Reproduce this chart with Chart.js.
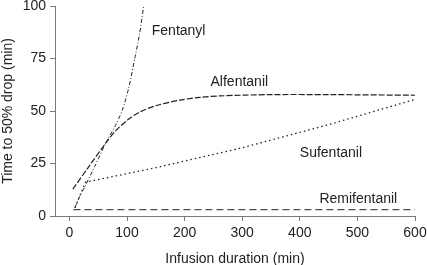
<!DOCTYPE html>
<html>
<head>
<meta charset="utf-8">
<script src="https://cdn.jsdelivr.net/npm/chart.js@4"></script>
<style>
  html, body { margin: 0; padding: 0; background: #fff; }
  #wrap { position: relative; width: 427px; height: 265px; }
</style>
</head>
<body>
<div id="wrap"><canvas id="c"></canvas></div>
<script>
// infusion duration (min) vs time to 50% drop (min)
var fentanylX   = [9.5, 18, 27, 44, 63, 79, 92, 103, 113.5, 122, 129];
var fentanylY   = [3.9, 9.4, 14.1, 23.6, 34.7, 42.6, 50.5, 61, 75, 87, 100];
var alfentanilX = [6, 35, 63, 80, 100, 122, 150, 192, 227, 262, 350, 450, 600];
var alfentanilY = [12.8, 24, 34.7, 40.5, 45.5, 49.5, 52.5, 55.2, 56.5, 57.2, 57.8, 57.8, 57.5];
var sufentanilX = [9.5, 28, 150, 300, 450, 600];
var sufentanilY = [3.9, 16.1, 23, 32.5, 43.5, 55.5];
var remiX       = [7, 600];
var remiY       = [3, 3];
var xTicks = [0, 100, 200, 300, 400, 500, 600];
var yTicks = [0, 25, 50, 75, 100];
var names  = ["Fentanyl", "Alfentanil", "Sufentanil", "Remifentanil"];
var labelX = [143, 245, 400, 434];
var labelY = [88, 63.7, 30, 7.8];

function pts(xs, ys) { return xs.map(function (x, i) { return { x: x, y: ys[i] }; }); }

var ink = "#222";
var axisCol = "#7a7a7a";
var font = "'Liberation Sans', Arial, sans-serif";

function line(data, dash, w, tension) {
  return { data: data, borderColor: ink, borderWidth: w, borderDash: dash,
           pointRadius: 0, fill: false, tension: tension, showLine: true };
}

var curveLabels = {
  id: "curveLabels",
  afterDatasetsDraw: function (chart) {
    var ctx = chart.ctx, sx = chart.scales.x, sy = chart.scales.y;
    ctx.save();
    ctx.font = "14px " + font;
    ctx.fillStyle = ink;
    ctx.textAlign = "left";
    ctx.textBaseline = "middle";
    names.forEach(function (n, i) {
      ctx.fillText(n, sx.getPixelForValue(labelX[i]), sy.getPixelForValue(labelY[i]));
    });
    ctx.restore();
  }
};

new Chart(document.getElementById("c"), {
  type: "scatter",
  data: { datasets: [
    line(pts(fentanylX, fentanylY), [4, 2, 1, 2], 1, 0.25),
    line(pts(alfentanilX, alfentanilY), [6, 2], 1.2, 0.3),
    line(pts(sufentanilX, sufentanilY), [1.5, 3], 1.3, 0),
    line(pts(remiX, remiY), [7, 4], 1, 0)
  ] },
  options: {
    responsive: true, maintainAspectRatio: false, animation: false,
    layout: { padding: { top: 6, right: 12, left: 0, bottom: 0 } },
    plugins: { legend: { display: false }, tooltip: { enabled: false } },
    scales: {
      x: {
        type: "linear", min: -25, max: 600,
        afterBuildTicks: function (ax) { ax.ticks = xTicks.map(function (v) { return { value: v }; }); },
        afterFit: function (ax) { ax.height = 49; ax.paddingRight = 0; ax.paddingLeft = 0; },
        grid: { drawOnChartArea: false, drawTicks: true, tickLength: 5, color: axisCol },
        border: { display: true, color: axisCol, width: 1 },
        ticks: { color: ink, font: { family: font, size: 14 }, padding: 4, maxRotation: 0 },
        title: { display: true, text: "Infusion duration (min)", color: ink,
                 font: { family: font, size: 14 }, padding: { top: 0, bottom: -3 } }
      },
      y: {
        type: "linear", min: 0, max: 100,
        afterBuildTicks: function (ax) { ax.ticks = yTicks.map(function (v) { return { value: v }; }); },
        afterFit: function (ax) { ax.width = 55; ax.paddingTop = 0; ax.paddingBottom = 0; },
        grid: { drawOnChartArea: false, drawTicks: true, tickLength: 5, color: axisCol },
        border: { display: true, color: axisCol, width: 1 },
        ticks: { color: ink, font: { family: font, size: 14 }, padding: 4 },
        title: { display: true, text: "Time to 50% drop (min)", color: ink,
                 font: { family: font, size: 14 }, padding: { top: 0, bottom: 0 } }
      }
    }
  },
  plugins: [curveLabels]
});
</script>
</body>
</html>
